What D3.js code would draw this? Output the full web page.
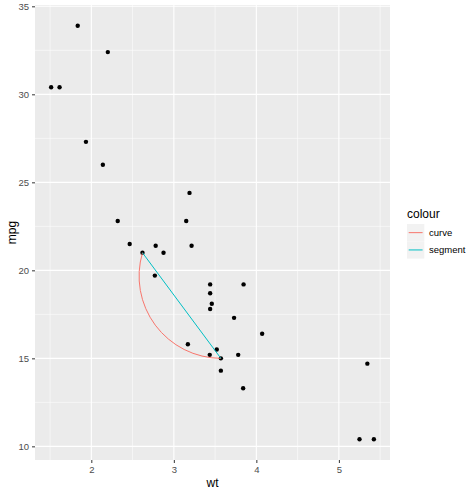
<!DOCTYPE html>
<html>
<head>
<meta charset="utf-8">
<style>
  body { margin: 0; background: white; }
  text { font-family: "Liberation Sans", Arial, sans-serif; }
</style>
</head>
<body>
<svg id="svg" width="474" height="492"></svg>
<script src="https://cdn.jsdelivr.net/npm/d3@7"></script>
<script>

// mtcars: wt vs mpg
var wt  = [2.620, 2.875, 2.320, 3.215, 3.440, 3.460, 3.570, 3.190, 3.150, 3.440, 3.440,
           4.070, 3.730, 3.780, 5.250, 5.424, 5.345, 2.200, 1.615, 1.835, 2.465, 3.520,
           3.435, 3.840, 3.845, 1.935, 2.140, 1.513, 3.170, 2.770, 3.570, 2.780];
var mpg = [21.0, 21.0, 22.8, 21.4, 18.7, 18.1, 14.3, 24.4, 22.8, 19.2, 17.8,
           16.4, 17.3, 15.2, 10.4, 10.4, 14.7, 32.4, 30.4, 33.9, 21.5, 15.5,
           15.2, 13.3, 19.2, 27.3, 26.0, 30.4, 15.8, 19.7, 15.0, 21.4];

// curve / segment endpoints
var seg = {x1: 2.62, y1: 21.0, x2: 3.57, y2: 15.0};

var xTicks = [2, 3, 4, 5];
var xMinor = [1.5, 2.5, 3.5, 4.5, 5.5];
var yTicks = [10, 15, 20, 25, 30, 35];
var yMinor = [12.5, 17.5, 22.5, 27.5, 32.5];

var legendKeys = ["curve", "segment"];
var legendColors = ["#F8766D", "#00BFC4"];

var panel = {left: 35, right: 390, top: 5, bottom: 460};

var xr = d3.extent(wt), yr = d3.extent(mpg);
var xpad = (xr[1] - xr[0]) * 0.05, ypad = (yr[1] - yr[0]) * 0.05;
var x = d3.scaleLinear().domain([xr[0] - xpad, xr[1] + xpad]).range([panel.left, panel.right]);
var y = d3.scaleLinear().domain([yr[0] - ypad, yr[1] + ypad]).range([panel.bottom, panel.top]);

var svg = d3.select("#svg");

svg.append("rect")
  .attr("x", panel.left).attr("y", panel.top)
  .attr("width", panel.right - panel.left).attr("height", panel.bottom - panel.top)
  .attr("fill", "#EBEBEB");

var grid = svg.append("g");
grid.selectAll("line.xmin").data(xMinor).join("line")
  .attr("x1", d => x(d)).attr("x2", d => x(d))
  .attr("y1", panel.top).attr("y2", panel.bottom)
  .attr("stroke", "white").attr("stroke-width", 0.55);
grid.selectAll("line.ymin").data(yMinor).join("line")
  .attr("y1", d => y(d)).attr("y2", d => y(d))
  .attr("x1", panel.left).attr("x2", panel.right)
  .attr("stroke", "white").attr("stroke-width", 0.55);

var xAxis = svg.append("g")
  .attr("transform", "translate(0," + panel.bottom + ")")
  .call(d3.axisBottom(x).tickValues(xTicks).tickSize(3).tickPadding(3).tickFormat(d3.format("d")));
var yAxis = svg.append("g")
  .attr("transform", "translate(" + panel.left + ",0)")
  .call(d3.axisLeft(y).tickValues(yTicks).tickSize(3).tickPadding(3).tickFormat(d3.format("d")));

[xAxis, yAxis].forEach(a => {
  a.select(".domain").remove();
  a.selectAll(".tick line").attr("stroke", "#333333").attr("stroke-width", 1);
  a.selectAll(".tick text").attr("fill", "#4D4D4D").attr("font-size", "9.5px")
    .attr("font-family", "Liberation Sans, Arial, sans-serif");
});

// major grid lines
grid.selectAll("line.xmaj").data(xTicks).join("line")
  .attr("x1", d => x(d)).attr("x2", d => x(d))
  .attr("y1", panel.top).attr("y2", panel.bottom)
  .attr("stroke", "white").attr("stroke-width", 1.1);
grid.selectAll("line.ymaj").data(yTicks).join("line")
  .attr("y1", d => y(d)).attr("y2", d => y(d))
  .attr("x1", panel.left).attr("x2", panel.right)
  .attr("stroke", "white").attr("stroke-width", 1.1);

// points
svg.append("g").selectAll("circle").data(d3.range(wt.length)).join("circle")
  .attr("cx", i => x(wt[i])).attr("cy", i => y(mpg[i]))
  .attr("r", 2.2).attr("fill", "black");

// curve (circular arc, curvature 0.5)
var ax = x(seg.x1), ay = y(seg.y1), bx = x(seg.x2), by = y(seg.y2);
var L = Math.hypot(bx - ax, by - ay);
var sag = 0.25 * L;
var r = (L * L / 4 + sag * sag) / (2 * sag);
svg.append("path")
  .attr("d", "M" + ax + "," + ay + " A" + r + "," + r + " 0 0 0 " + bx + "," + by)
  .attr("fill", "none").attr("stroke", legendColors[0]).attr("stroke-width", 1);

// segment
svg.append("line")
  .attr("x1", ax).attr("y1", ay).attr("x2", bx).attr("y2", by)
  .attr("stroke", legendColors[1]).attr("stroke-width", 1);

// axis titles
svg.append("text").text("wt")
  .attr("x", (panel.left + panel.right) / 2).attr("y", 487)
  .attr("text-anchor", "middle").attr("font-size", "12px").attr("fill", "black");
svg.append("text").text("mpg")
  .attr("transform", "translate(16," + ((panel.top + panel.bottom) / 2) + ") rotate(-90)")
  .attr("text-anchor", "middle").attr("font-size", "12px").attr("fill", "black");

// legend
var lg = svg.append("g").attr("transform", "translate(407,224)");
lg.append("text").text("colour").attr("x", 0).attr("y", -6)
  .attr("font-size", "12px").attr("fill", "black");
var key = lg.selectAll("g").data(legendKeys).join("g")
  .attr("transform", (d, i) => "translate(0," + (i * 17.3) + ")");
key.append("rect").attr("width", 17.3).attr("height", 17.3).attr("fill", "#F2F2F2");
key.append("line").attr("x1", 1.7).attr("x2", 15.6).attr("y1", 8.65).attr("y2", 8.65)
  .attr("stroke", (d, i) => legendColors[i]).attr("stroke-width", 1);
key.append("text").text(d => d).attr("x", 22).attr("y", 12)
  .attr("font-size", "9.5px").attr("fill", "black");

</script>
</body>
</html>
